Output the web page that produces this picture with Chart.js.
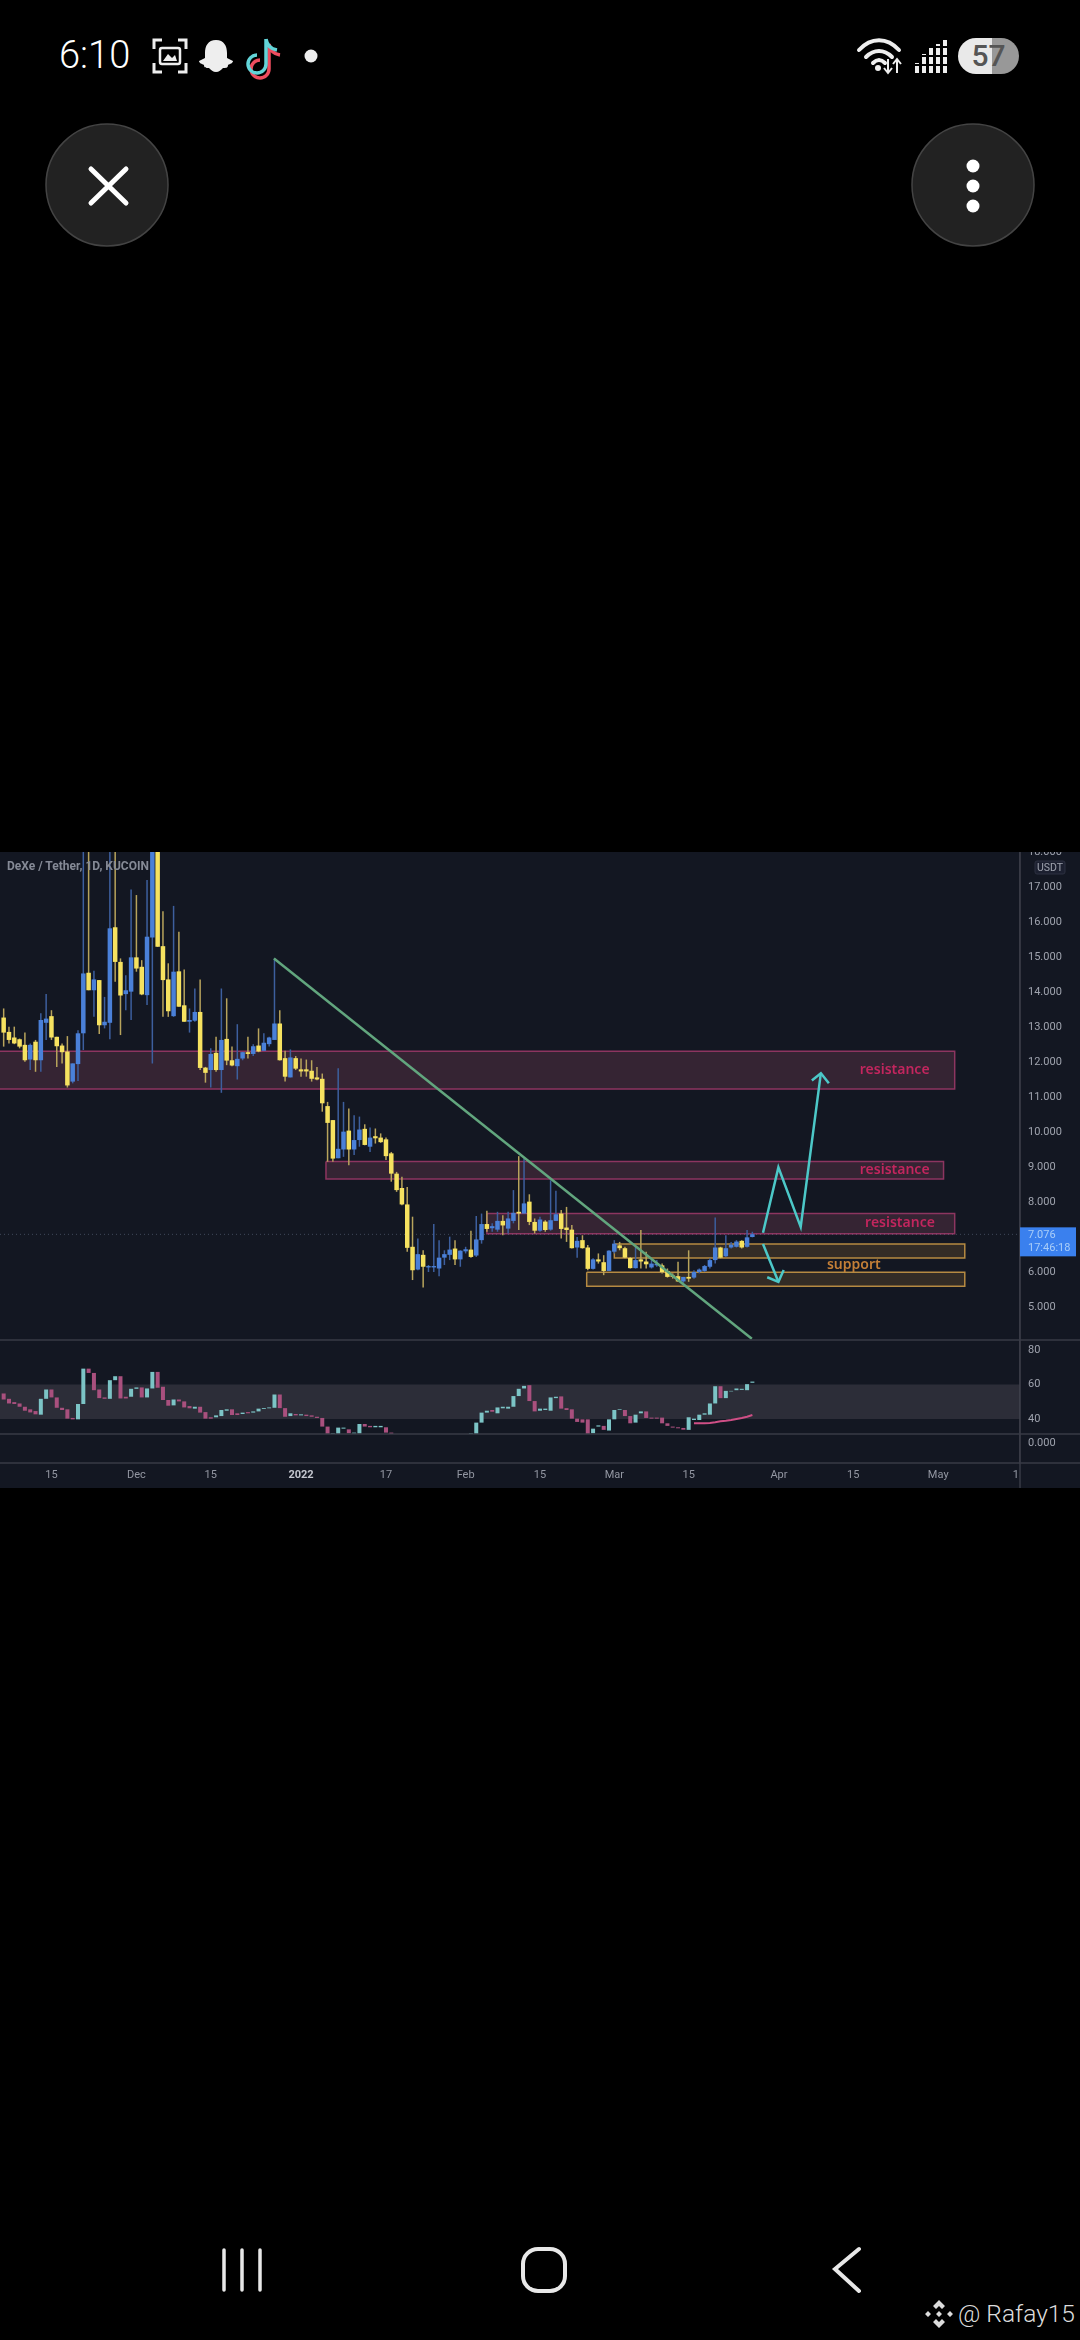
<!DOCTYPE html>
<html>
<head>
<meta charset="utf-8">
<title>DeXe / Tether</title>
<script src="https://cdn.jsdelivr.net/npm/chart.js@4"></script>
<style>
    html, body { margin: 0; padding: 0; background: #000; }
    body { position: relative; width: 1080px; height: 2340px; overflow: hidden; font-family: Roboto, sans-serif; }
    #chartBox { position: absolute; left: 0; top: 852px; width: 1080px; height: 636px; background: #131722; }
    #priceChart { filter: blur(0.6px); display: block; }
    #symbol { position: absolute; left: 7px; top: 859px; font: bold 12px Roboto, sans-serif; color: #858a96; filter: blur(0.4px); white-space: nowrap; }
    #clock { position: absolute; left: 59px; top: 33px; font: 300 38px Roboto, sans-serif; color: #fff; letter-spacing: 0; }
    #battery { position: absolute; left: 958px; top: 38px; width: 61px; height: 36px; border-radius: 18px; overflow: hidden;
        background: linear-gradient(90deg, #e9e9e9 0, #e9e9e9 56%, #989898 56%, #989898 100%);
        font: 500 30px/36px "Liberation Sans Narrow", Roboto, sans-serif; color: #555; text-align: center; }
    #watermark { position: absolute; left: 958px; top: 2299px; font: 300 24.5px Roboto, sans-serif; color: #dcdcdc; white-space: nowrap; }
    svg.ui { position: absolute; left: 0; top: 0; }
</style>
</head>
<body>
<svg class="ui" width="1080" height="2340" viewBox="0 0 1080 2340">
    <!-- screenshot icon -->
    <g fill="none" stroke="#eee" stroke-width="3">
        <path d="M162 40h-8v9M178 40h8v9M162 72h-8v-9M178 72h8v-9"/>
        <rect x="160" y="48" width="20" height="16" rx="2" stroke-width="2.5"/>
    </g>
    <path d="M163 61l5-7 4 4 3-3 2 6z" fill="#eee"/>
    <!-- snapchat -->
    <path d="M216 40c8 0 11 6 11 13v5l6 3c0 2-3 3-5 4 0 3-2 3-5 3-2 2-4 4-7 4s-5-2-7-4c-3 0-5 0-5-3-2-1-5-2-5-4l6-3v-5c0-7 3-13 11-13z" fill="#eee"/>
    <!-- tiktok -->
    <g fill="none" stroke-width="3.5">
        <path d="M267 41v25a9 9 0 1 1-9-9M267 41c1 6 5 10 11 11" stroke="#ee4d5f" transform="translate(2 3)"/>
        <path d="M267 41v25a9 9 0 1 1-9-9M267 41c1 6 5 10 11 11" stroke="#62d4d8" transform="translate(-1 -2)"/>
    </g>
    <circle cx="311" cy="56" r="6.5" fill="#eee"/>
    <!-- wifi -->
    <g fill="none" stroke="#eee" stroke-width="4" stroke-linecap="round">
        <path d="M859 50c12-13 28-13 40 0M866 57c8-8 18-8 26 0M873 63c4-4 8-4 12 0"/>
    </g>
    <circle cx="878" cy="68" r="3" fill="#eee"/>
    <path d="M888 59v14M884 68l4 5 4-5M897 73v-13M893 64l4-5 4 5" fill="none" stroke="#eee" stroke-width="2"/>
    <!-- signal -->
    <g stroke="#eee" stroke-width="4" stroke-dasharray="7 2">
        <path d="M917 73v-10M924 73v-19M931 73v-25M938 73v-29M945 73v-33"/>
    </g>
    <!-- close and menu buttons -->
    <circle cx="107" cy="185" r="61" fill="#222" stroke="#444" stroke-width="1.5"/>
    <path d="M91 169l35 34M126 169l-35 34" stroke="#fff" stroke-width="5" stroke-linecap="round"/>
    <circle cx="973" cy="185" r="61" fill="#222" stroke="#444" stroke-width="1.5"/>
    <circle cx="973" cy="166" r="6.5" fill="#fff"/>
    <circle cx="973" cy="186" r="6.5" fill="#fff"/>
    <circle cx="973" cy="206" r="6.5" fill="#fff"/>
    <!-- nav bar -->
    <g fill="none" stroke="#e8e8e8" stroke-linecap="round">
        <path d="M224 2250v40M242 2250v40M260 2250v40" stroke-width="3.5"/>
        <rect x="523" y="2249" width="42" height="42" rx="15" stroke-width="4"/>
        <path d="M859 2249l-24 20 24 22" stroke-width="4"/>
    </g>
    <!-- binance mark -->
    <g fill="#dcdcdc" transform="translate(939 2314)">
        <path d="M0-14l6 6-3 3-3-3-3 3-3-3zM0 14l6-6-3-3-3 3-3-3-3 3zM-11-3l3 3-3 3-3-3zM11-3l3 3-3 3-3-3zM0-3l3 3-3 3-3-3z"/>
    </g>
</svg>
<div id="clock">6:10</div>
<div id="battery">57</div>
<div id="watermark">@ Rafay15</div>
<div id="chartBox"><canvas id="priceChart" width="1080" height="636"></canvas></div>
<div id="symbol">DeXe / Tether, 1D, KUCOIN</div>

<script>
// candle dates, days from 1 Jan 2022
const candleDays = [
    -56,-55,-54,-53,-52,-51,-50,-49,-48,-47,-46,-45,-44,-43,-42,-41,-40,-39,-38,-37,
    -36,-35,-34,-33,-32,-31,-30,-29,-28,-27,-26,-25,-24,-23,-22,-21,-20,-19,-18,-17,
    -16,-15,-14,-13,-12,-11,-10,-9,-8,-7,-6,-5,-4,-3,-2,-1,0,1,2,3,4,5,6,7,8,9,10,11,
    12,13,14,15,16,17,18,19,20,21,22,23,24,25,26,27,28,29,30,31,32,33,34,35,36,37,38,39,
    40,41,42,43,44,45,46,47,48,49,50,51,52,53,54,55,56,57,58,59,60,61,62,63,64,65,66,67,
    68,69,70,71,72,73,74,75,76,77,78,79,80,81,82,83,84,85
];

const candleOpen = [
    13.27,12.86,12.70,12.65,12.49,12.07,12.58,12.05,13.12,13.31,
    12.72,12.47,12.30,11.44,11.94,12.82,14.55,14.05,14.34,13.05,
    13.12,15.85,14.86,13.94,14.01,14.99,14.72,13.91,15.56,19.50,
    15.31,14.36,13.31,14.59,13.62,13.15,13.18,13.43,11.84,11.77,
    12.26,11.77,12.66,12.05,11.88,12.10,12.28,12.23,12.47,12.32,
    12.51,12.63,13.10,12.11,11.56,12.11,11.79,11.79,11.75,11.56,
    11.52,10.74,10.34,9.25,9.50,10.04,9.50,9.77,
    10.09,9.58,9.88,9.84,9.79,9.39,8.81,8.40,7.93,6.72,
    6.07,6.49,6.13,6.13,6.10,6.41,6.49,6.67,6.36,6.59,
    6.64,6.47,6.91,7.37,7.25,7.21,7.46,7.24,7.46,7.72,
    7.67,8.01,7.43,7.18,7.44,7.21,7.46,7.67,7.27,7.21,
    6.70,6.91,6.70,6.09,6.36,6.28,6.03,6.58,6.76,6.68,
    6.40,6.11,6.36,6.30,6.13,6.19,6.19,6.03,5.90,5.88,
    5.73,5.86,5.84,6.00,6.03,6.15,6.34,6.70,6.45,6.70,
    6.72,6.89,6.72,7.00
];
const candleClose = [
    12.84,12.63,12.53,12.44,12.05,12.49,12.05,13.20,13.24,12.70,
    12.45,12.28,11.33,11.96,12.82,14.53,14.05,14.36,13.05,13.15,
    15.82,14.86,13.90,14.05,14.99,14.67,13.93,15.58,19.50,15.29,
    14.34,13.45,14.58,13.58,13.15,13.20,13.43,11.83,11.69,12.23,
    11.77,12.63,12.04,11.90,12.09,12.28,12.23,12.45,12.30,12.55,
    12.70,13.10,12.05,11.58,12.13,11.81,11.73,11.73,11.52,11.50,
    10.82,10.26,9.24,9.52,10.01,9.50,9.77,10.07,
    9.63,9.84,9.82,9.71,9.31,8.81,8.34,7.93,6.69,6.05,
    6.51,6.15,6.17,6.17,6.41,6.51,6.64,6.36,6.61,6.65,
    6.43,6.93,7.37,7.23,7.31,7.46,7.33,7.53,7.69,7.67,
    7.96,7.43,7.18,7.50,7.20,7.48,7.65,7.23,7.20,6.68,
    6.89,6.68,6.09,6.36,6.30,6.03,6.61,6.81,6.68,6.41,
    6.11,6.34,6.30,6.22,6.24,6.24,6.00,5.86,5.86,5.73,
    5.86,5.81,6.00,6.07,6.17,6.34,6.70,6.41,6.68,6.78,
    6.87,6.70,6.99,7.08
];
const candleHigh = [
    13.53,13.01,13.01,12.67,12.84,12.53,12.63,13.39,13.94,13.48,
    12.72,12.53,12.74,11.96,12.91,20.00,20.00,14.61,14.34,13.86,
    20.00,20.00,14.96,14.48,16.93,16.77,14.91,17.20,20.00,20.00,
    16.31,14.82,16.46,15.72,14.64,13.53,14.10,14.36,11.86,12.39,
    12.72,14.10,13.82,12.44,13.08,12.29,12.72,12.51,12.96,12.82,
    12.72,14.96,13.48,12.32,12.36,12.17,12.10,12.07,12.05,11.86,
    11.67,10.86,10.34,11.82,10.86,10.67,10.48,10.44,
    10.22,10.13,10.10,9.96,9.84,9.43,8.86,8.72,8.43,7.58,
    6.96,6.62,6.20,7.37,6.91,6.62,7.01,6.91,6.62,6.72,
    7.18,7.60,7.67,7.75,7.39,7.72,7.62,7.72,8.34,9.31,
    9.24,8.22,7.53,7.58,7.48,8.62,8.32,7.77,7.86,7.34,
    7.00,7.05,6.77,6.39,6.53,6.48,6.62,6.91,6.86,6.72,
    6.43,6.72,7.20,6.58,6.34,6.34,6.24,6.10,5.96,6.29,
    5.86,6.62,6.05,6.10,6.20,6.39,7.56,6.72,7.05,6.86,
    6.91,6.91,7.20,7.15
];
const candleLow = [
    12.44,12.53,12.51,12.39,12.01,11.77,11.72,11.72,12.63,12.63,
    11.86,11.96,11.27,11.39,11.46,12.34,14.05,13.29,12.80,12.96,
    12.65,14.29,12.77,13.48,13.20,14.58,13.91,13.63,11.96,15.29,
    13.29,13.29,13.29,13.58,13.15,12.84,13.15,11.77,11.41,11.27,
    11.72,11.12,11.91,11.88,11.50,12.05,12.10,12.17,12.28,12.32,
    12.44,12.63,12.04,11.44,11.56,11.77,11.58,11.58,11.44,11.48,
    10.58,9.15,9.15,9.25,9.29,9.05,9.34,9.58,
    9.62,9.43,9.67,9.69,9.20,8.58,8.29,7.91,6.58,5.77,
    6.05,5.56,6.00,6.00,5.88,6.20,6.34,6.20,6.15,6.53,
    6.41,6.43,6.81,7.15,7.15,7.15,7.05,7.10,7.39,7.20,
    7.67,7.34,7.10,7.15,7.15,7.18,7.46,6.96,6.86,6.67,
    6.41,6.67,6.05,6.07,6.24,5.91,6.03,6.53,6.62,6.39,
    6.10,6.10,6.10,6.10,6.10,6.15,5.96,5.84,5.81,5.72,
    5.69,5.72,5.81,5.96,6.00,6.10,6.24,6.39,6.43,6.67,
    6.70,6.67,6.70,6.99
];

const rsiOpen = [
    54.8,51.7,49.8,49.0,47.1,45.6,44.6,42.5,51.7,57.1,52.5,46.5,45.6,40.6,39.8,48.7,69.2,66.7,57.1,52.5,
    51.7,62.5,64.8,52.9,52.9,57.5,58.3,52.5,57.7,67.3,58.7,51.0,47.9,51.3,50.2,47.5,46.0,47.1,44.0,41.0,
    41.0,41.7,44.8,45.6,43.3,42.9,44.0,43.7,44.4,45.8,46.2,46.5,54.2,46.3,41.7,42.9,42.1,42.5,42.1,41.3,
    40.6,35.6,31.3,31.3,34.4,34.0,31.5,31.5,37.1,36.0,35.2,35.2,35.2,32.1,31.3,30.5,30.0,29.0,28.5,28.0,
    27.5,27.8,27.5,28.0,28.4,28.8,29.4,30.0,30.8,31.3,37.9,43.7,45.2,43.3,46.2,46.0,47.1,53.3,57.7,59.6,
    50.4,44.8,45.2,44.8,52.1,53.1,46.3,45.6,40.2,39.8,39.8,31.7,35.6,36.0,33.3,39.8,45.2,45.2,41.7,37.9,
    43.3,44.4,40.8,40.8,40.8,37.5,35.6,35.2,34.8,33.7,39.4,39.4,42.5,42.5,49.0,59.0,52.1,56.0,56.7,56.9,
    56.7,61.0
];
const rsiClose = [
    51.3,49.0,48.7,47.1,44.8,43.8,42.7,51.7,57.1,52.5,46.5,45.2,40.2,39.8,48.7,69.2,66.7,56.7,52.1,51.7,
    62.5,64.8,51.9,51.9,57.5,58.3,52.5,57.7,67.3,58.1,51.0,47.7,51.3,50.2,46.7,46.2,47.1,43.7,40.2,40.2,
    42.1,45.2,45.6,42.3,42.3,43.7,43.3,44.4,46.0,46.3,46.7,54.2,46.3,41.3,43.3,42.1,42.7,41.7,41.3,40.6,
    35.6,31.3,31.7,35.0,35.0,31.7,32.1,37.1,35.6,35.2,36.0,36.0,32.1,31.3,30.5,30.0,29.0,28.5,28.0,27.5,
    27.8,27.5,28.0,28.4,28.8,29.4,30.0,30.8,31.7,37.9,43.7,44.8,44.2,46.7,47.1,47.1,53.3,57.5,59.2,50.4,
    44.4,46.0,46.0,52.5,52.9,46.0,45.2,40.2,38.3,37.9,31.3,34.4,36.3,33.7,39.8,45.2,45.6,41.7,37.5,42.5,
    44.4,40.6,40.2,40.2,37.5,36.0,35.0,34.6,33.8,41.0,40.2,42.5,43.3,49.0,59.0,52.1,56.3,56.3,57.7,57.5,
    60.2,61.7
];

// pink average under the rsi
const rsiMaDays = [74,75,76,77,78,79,80,81,82,83,84,85];
const rsiMaValues = [37.5,37.5,37.5,37.7,38.1,38.7,39.0,39.4,40.0,40.6,41.3,42.3];

const priceTicks = [18,17,16,15,14,13,12,11,10,9,8,7,6,5];
const rsiTicks = [80,60,40];
const zeroTicks = [0];
const timeTicks = [-47,-31,-17,0,16,31,45,59,73,90,104,120,135.2];
const timeLabels = ['15','Dec','15','2022','17','Feb','15','Mar','15','Apr','15','May','15'];

// zones: [left day, right day, top price, bottom price]
const resistanceZones = [
    [-60,123.1,12.31,11.23],
    [4.7,121,9.16,8.66],
    [35,123.1,7.67,7.09]
];
const supportZones = [
    [59,125,6.80,6.40],
    [53.8,125,5.99,5.59]
];
const zoneTexts = ['resistance','resistance','resistance','support'];
const zoneTextDays = [111.8,111.8,112.8,104.1];
const zoneTextPrices = [11.77,8.91,7.39,6.20];

const trendDays = [-5.1,84.9];
const trendPrices = [14.96,4.09];
const upPathDays = [87,89.9,94.1,97.9];
const upPathPrices = [7.12,8.99,7.29,11.68];
const upHeadDays = [96.2,97.9,99.4];
const upHeadPrices = [11.47,11.68,11.39];
const downPathDays = [87,89.9];
const downPathPrices = [6.80,5.72];
const downHeadDays = [87.8,89.9,90.9];
const downHeadPrices = [5.85,5.72,6.06];

const lastPrice = 7.076;
const lastPriceTime = '17:46:18';
const unitLabel = 'USDT';

const xMin = -56.69, xMax = 135.4;
const upColor = '#4a80d8', downColor = '#f6e260';
const upWick = '#3d5f9e', downWick = '#b8a45c';
const rsiUp = '#7cc4c6', rsiDown = '#a9507e';
const lineColor = '#383b46';

function pairPoints(xs, ys) {
    return xs.map((x, i) => ({ x: x, y: ys[i] }));
}

function pathDataset(xs, ys, color, width, order) {
    return {
        type: 'line',
        data: pairPoints(xs, ys),
        borderColor: color,
        borderWidth: width,
        pointRadius: 0,
        tension: 0,
        fill: false,
        order: order,
        yAxisID: 'y'
    };
}

function zoneDatasets(zone, fillColor, edgeColor) {
    const left = zone[0], right = zone[1], top = zone[2], bottom = zone[3];
    const body = pathDataset([left, right], [top, top], 'transparent', 0, 7);
    body.fill = { value: bottom };
    body.backgroundColor = fillColor;
    const edge = pathDataset([left, right, right, left, left], [top, top, bottom, bottom, top], edgeColor, 1.5, 6);
    return [body, edge];
}

const datasets = [];

resistanceZones.forEach(z => datasets.push(...zoneDatasets(z, 'rgba(190,90,120,0.2)', '#8d3560')));
supportZones.forEach(z => datasets.push(...zoneDatasets(z, 'rgba(214,150,60,0.17)', '#b58a42')));

// rsi band between 40 and 60
const rsiBand = pathDataset([xMin, xMax], [60, 60], 'transparent', 0, 7);
rsiBand.fill = { value: 40 };
rsiBand.backgroundColor = 'rgba(130,120,130,0.23)';
rsiBand.yAxisID = 'yRsi';
datasets.push(rsiBand);

const lastLine = pathDataset([xMin, xMax], [lastPrice, lastPrice], 'rgba(150,165,195,0.35)', 1, 5);
lastLine.borderDash = [1, 3];
datasets.push(lastLine);

datasets.push({
    type: 'bar',
    data: candleDays.map((d, i) => ({ x: d, y: [candleLow[i], candleHigh[i]] })),
    backgroundColor: candleDays.map((d, i) => candleClose[i] >= candleOpen[i] ? upWick : downWick),
    barThickness: 1.5,
    grouped: false,
    borderWidth: 0,
    inflateAmount: 0,
    order: 3,
    yAxisID: 'y'
});
datasets.push({
    type: 'bar',
    data: candleDays.map((d, i) => ({ x: d, y: [candleOpen[i], candleClose[i]] })),
    backgroundColor: candleDays.map((d, i) => candleClose[i] >= candleOpen[i] ? upColor : downColor),
    barThickness: 4.5,
    grouped: false,
    borderWidth: 0,
    inflateAmount: 0,
    order: 2,
    yAxisID: 'y'
});
datasets.push({
    type: 'bar',
    data: candleDays.map((d, i) => ({ x: d, y: [rsiOpen[i], rsiClose[i]] })),
    backgroundColor: candleDays.map((d, i) => rsiClose[i] >= rsiOpen[i] ? rsiUp : rsiDown),
    barThickness: 4,
    grouped: false,
    borderWidth: 0,
    inflateAmount: 0,
    order: 2,
    yAxisID: 'yRsi'
});

const rsiMa = pathDataset(rsiMaDays, rsiMaValues, '#cf4f86', 2, 1);
rsiMa.yAxisID = 'yRsi';
datasets.push(rsiMa);

datasets.push(pathDataset(trendDays, trendPrices, '#62a67e', 2.5, 1));
datasets.push(pathDataset(upPathDays, upPathPrices, '#4cc8c8', 2.5, 0));
datasets.push(pathDataset(upHeadDays, upHeadPrices, '#4cc8c8', 2.5, 0));
datasets.push(pathDataset(downPathDays, downPathPrices, '#4cc8c8', 2.5, 0));
datasets.push(pathDataset(downHeadDays, downHeadPrices, '#4cc8c8', 2.5, 0));

function sizedAxis(scale) {
    scale.width = 60;
    scale.paddingTop = 0;
    scale.paddingBottom = 0;
    scale.paddingLeft = 0;
    scale.paddingRight = 0;
}

function yAxis(min, max, ticks, weight, digits) {
    return {
        type: 'linear',
        position: 'right',
        stack: 'panes',
        stackWeight: weight,
        min: min,
        max: max,
        grid: { display: false, drawTicks: false },
        border: { display: true, color: lineColor, width: 1.5 },
        afterBuildTicks: scale => { scale.ticks = ticks.map(v => ({ value: v })); },
        afterFit: sizedAxis,
        ticks: {
            color: '#9fa3ae',
            padding: 8,
            autoSkip: false,
            font: { family: 'Roboto', size: 11 },
            callback: v => v.toFixed(digits)
        }
    };
}

// extras drawn on top, placed through the chart's scales
const overlayPlugin = {
    id: 'overlay',
    afterDatasetsDraw(chart) {
        const ctx = chart.ctx;
        const x = chart.scales.x, y = chart.scales.y;

        ctx.save();
        ctx.font = '600 14px "Noto Sans"';
        ctx.textAlign = 'center';
        ctx.textBaseline = 'middle';
        zoneTexts.forEach((t, i) => {
            ctx.fillStyle = t === 'support' ? '#c47f37' : '#c2265e';
            ctx.fillText(t, x.getPixelForValue(zoneTextDays[i]), y.getPixelForValue(zoneTextPrices[i]));
        });
        ctx.restore();
    },
    afterDraw(chart) {
        const ctx = chart.ctx;
        const x = chart.scales.x, y = chart.scales.y, rsi = chart.scales.yRsi, zero = chart.scales.yZero;
        const axisX = y.left;

        ctx.save();
        // the last time label is cut by the price column
        ctx.fillStyle = '#131722';
        ctx.fillRect(axisX, x.top, chart.width - axisX, x.height);

        // pane separators
        ctx.strokeStyle = lineColor;
        ctx.lineWidth = 1.5;
        [y.bottom, rsi.bottom, zero.bottom].forEach(py => {
            ctx.beginPath();
            ctx.moveTo(0, py);
            ctx.lineTo(chart.width, py);
            ctx.stroke();
        });
        ctx.beginPath();
        ctx.moveTo(axisX, 0);
        ctx.lineTo(axisX, chart.height);
        ctx.stroke();

        // currency box
        ctx.fillStyle = '#1c2030';
        ctx.strokeStyle = '#2c3040';
        ctx.lineWidth = 1;
        ctx.beginPath();
        ctx.roundRect(axisX + 15, 9, 30, 13, 2);
        ctx.fill();
        ctx.stroke();
        ctx.fillStyle = '#9fa3ae';
        ctx.font = '10.5px Roboto';
        ctx.textAlign = 'center';
        ctx.textBaseline = 'middle';
        ctx.fillText(unitLabel, axisX + 30, 16);

        // last price tag
        const tagY = y.getPixelForValue(lastPrice);
        ctx.fillStyle = '#3a80ee';
        ctx.fillRect(axisX, tagY - 7, 56, 29);
        ctx.fillStyle = '#a9cdf8';
        ctx.font = '11px Roboto';
        ctx.textAlign = 'left';
        ctx.fillText(lastPrice.toFixed(3), axisX + 8, tagY + 1);
        ctx.fillText(lastPriceTime, axisX + 8, tagY + 14);
        ctx.restore();
    }
};

new Chart(document.getElementById('priceChart'), {
    data: { datasets: datasets },
    plugins: [overlayPlugin],
    options: {
        responsive: false,
        animation: false,
        layout: { padding: 0 },
        plugins: { legend: { display: false }, tooltip: { enabled: false }, title: { display: false } },
        scales: {
            x: {
                type: 'linear',
                position: 'bottom',
                offset: false,
                min: xMin,
                max: xMax,
                grid: { display: false, drawTicks: false, offset: false },
                border: { display: false },
                afterBuildTicks: scale => { scale.ticks = timeTicks.map(v => ({ value: v })); },
                afterFit: scale => {
                    scale.height = 25;
                    scale.paddingLeft = 0;
                    scale.paddingRight = 0;
                    scale.paddingTop = 0;
                    scale.paddingBottom = 0;
                },
                ticks: {
                    autoSkip: false,
                    maxRotation: 0,
                    padding: 6,
                    color: ctx => timeLabels[ctx.index] === '2022' ? '#c3c6ce' : '#9397a2',
                    font: ctx => ({
                        family: 'Roboto',
                        size: 11,
                        weight: timeLabels[ctx.index] === '2022' ? 'bold' : 'normal'
                    }),
                    callback: (v, i) => timeLabels[i]
                }
            },
            y: yAxis(4.057, 18, priceTicks, 488, 3),
            yRsi: yAxis(31.3, 85.8, rsiTicks, 94, 0),
            yZero: yAxis(-2.2, 1, zeroTicks, 29, 3)
        }
    }
});
</script>
</body>
</html>
